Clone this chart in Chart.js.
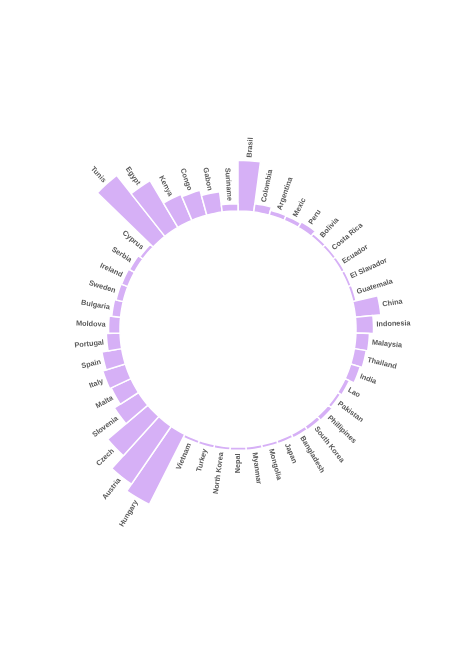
<!DOCTYPE html>
<html>
<head>
<meta charset="utf-8">
<script src="https://cdn.jsdelivr.net/npm/chart.js@4/dist/chart.umd.min.js"></script>
<style>
  html, body { margin: 0; padding: 0; background: #fff; }
  #wrap { width: 474px; height: 662px; position: relative; }
</style>
</head>
<body>
<div id="wrap"><canvas id="chart"></canvas></div>
<script>
// countries, clockwise from 12 o'clock
const COUNTRIES = [
  'Brasil', 'Colombia', 'Argentina', 'Mexic', 'Peru', 'Bolivia', 'Costa Rica', 'Ecuador', 'El Slavador', 'Guatemala',
  'China', 'Indonesia', 'Malaysia', 'Thailand', 'India', 'Lao', 'Pakistan', 'Phillipines', 'South Korea', 'Bangladesh',
  'Japan', 'Mongolia', 'Myanmar', 'Nepal', 'North Korea', 'Turkey', 'Vietnam',
  'Hungary', 'Austria', 'Czech', 'Slovenia', 'Malta', 'Italy', 'Spain', 'Portugal', 'Moldova', 'Bulgaria', 'Sweden',
  'Ireland', 'Serbia', 'Cyprus',
  'Tunis', 'Egypt', 'Kenya', 'Congo', 'Gabon', 'Suriname',
];
const VALUES = [
  4870, 690, 420, 410, 540, 280, 270, 270, 260, 280,
  2240, 1490, 1130, 1000, 820, 390, 300, 420, 370, 330,
  280, 270, 280, 270, 270, 280, 270,
  8290, 7210, 5120, 2550, 1890, 2050, 1720, 1150, 950, 730, 600,
  550, 470, 320,
  8180, 5310, 2510, 2260, 1760, 600,
];
const DOMAIN_MAX = 14000;
const INNER_RATIO = 0.5;   // inner hole / outer radius

const BAR_COLOR = '#d6b0f6';
const TEXT_COLOR = '#595959';

// square-root radial scale (like d3.scaleRadial): bars start at the inner ring
class RadialSqrtScale extends Chart.RadialLinearScale {
  getDistanceFromCenterForValue(value) {
    if (value === null || isNaN(value)) return NaN;
    const R = this.drawingArea, r0 = R * INNER_RATIO;
    const t = Math.max(0, (value - this.min) / (this.max - this.min));
    return Math.sqrt(r0 * r0 + (R * R - r0 * r0) * t);
  }
}
RadialSqrtScale.id = 'radialSqrt';
Chart.register(RadialSqrtScale);

// polar area arcs start at the center, push them out to the ring
const innerRing = {
  id: 'innerRing',
  afterDatasetsUpdate(chart) {
    const scale = chart.scales.r;
    const r0 = scale.getDistanceFromCenterForValue(0);
    chart.getDatasetMeta(0).data.forEach(a => { a.innerRadius = r0; });
  },
};

// radial country names at the tip of each bar
const barLabels = {
  id: 'barLabels',
  afterDatasetsDraw(chart) {
    const ctx = chart.ctx;
    const labels = chart.data.labels;
    ctx.save();
    ctx.font = 'bold 7.3px "Liberation Sans", Arial, sans-serif';
    ctx.fillStyle = TEXT_COLOR;
    ctx.textBaseline = 'middle';
    chart.getDatasetMeta(0).data.forEach((arc, i) => {
      const { x, y, startAngle, endAngle, outerRadius } = arc.getProps(['x', 'y', 'startAngle', 'endAngle', 'outerRadius'], true);
      const a = (startAngle + endAngle) / 2;
      const r = outerRadius + 3;
      const left = Math.cos(a) < 0;
      ctx.save();
      ctx.translate(x + r * Math.cos(a), y + r * Math.sin(a));
      ctx.rotate(left ? a + Math.PI : a);
      ctx.textAlign = left ? 'right' : 'left';
      ctx.fillText(labels[i], 0, 0);
      ctx.restore();
    });
    ctx.restore();
  },
};

new Chart(document.getElementById('chart'), {
  type: 'polarArea',
  data: {
    labels: COUNTRIES,
    datasets: [{ data: VALUES, backgroundColor: BAR_COLOR, borderColor: '#fff', borderWidth: 1.5 }],
  },
  options: {
    responsive: true, maintainAspectRatio: false, animation: false,
    layout: { padding: { left: 2, right: 0, top: 0, bottom: 4 } },
    plugins: { legend: { display: false }, tooltip: { enabled: false } },
    scales: { r: { type: 'radialSqrt', min: 0, max: DOMAIN_MAX, display: false } },
  },
  plugins: [innerRing, barLabels],
});
</script>
</body>
</html>
